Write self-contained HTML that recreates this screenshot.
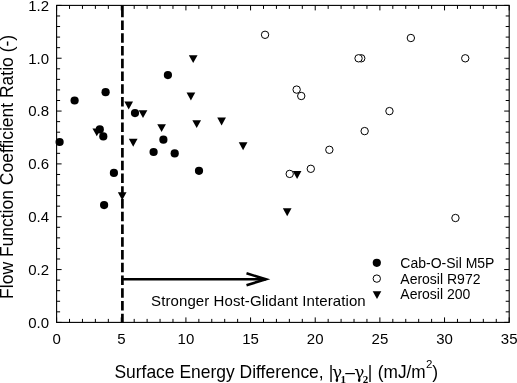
<!DOCTYPE html>
<html><head><meta charset="utf-8"><title>Flow Function Coefficient Ratio</title>
<style>html,body{margin:0;padding:0;background:#fff}svg{display:block}text{font-family:"Liberation Sans",Arial,Helvetica,sans-serif;fill:#000}.t{font-size:15px}.l{font-size:14px}.a{font-size:17.5px}.g{font-family:"DejaVu Serif","Liberation Serif",serif;font-size:17px}.sb{font-family:"Liberation Serif","DejaVu Serif",serif;font-size:11px;font-weight:bold}</style></head><body>
<svg width="517" height="383" viewBox="0 0 517 383">
<rect width="517" height="383" fill="#fff"/>
<rect x="56.6" y="5.4" width="452.60" height="317.00" fill="none" stroke="#000" stroke-width="1.1"/>
<path d="M56.60 322.4v-5.0M56.60 5.4v5.0M69.53 322.4v-3.5M69.53 5.4v3.5M82.46 322.4v-3.5M82.46 5.4v3.5M95.39 322.4v-3.5M95.39 5.4v3.5M108.33 322.4v-3.5M108.33 5.4v3.5M121.26 322.4v-5.0M121.26 5.4v5.0M134.19 322.4v-3.5M134.19 5.4v3.5M147.12 322.4v-3.5M147.12 5.4v3.5M160.05 322.4v-3.5M160.05 5.4v3.5M172.98 322.4v-3.5M172.98 5.4v3.5M185.91 322.4v-5.0M185.91 5.4v5.0M198.85 322.4v-3.5M198.85 5.4v3.5M211.78 322.4v-3.5M211.78 5.4v3.5M224.71 322.4v-3.5M224.71 5.4v3.5M237.64 322.4v-3.5M237.64 5.4v3.5M250.57 322.4v-5.0M250.57 5.4v5.0M263.50 322.4v-3.5M263.50 5.4v3.5M276.43 322.4v-3.5M276.43 5.4v3.5M289.37 322.4v-3.5M289.37 5.4v3.5M302.30 322.4v-3.5M302.30 5.4v3.5M315.23 322.4v-5.0M315.23 5.4v5.0M328.16 322.4v-3.5M328.16 5.4v3.5M341.09 322.4v-3.5M341.09 5.4v3.5M354.02 322.4v-3.5M354.02 5.4v3.5M366.95 322.4v-3.5M366.95 5.4v3.5M379.89 322.4v-5.0M379.89 5.4v5.0M392.82 322.4v-3.5M392.82 5.4v3.5M405.75 322.4v-3.5M405.75 5.4v3.5M418.68 322.4v-3.5M418.68 5.4v3.5M431.61 322.4v-3.5M431.61 5.4v3.5M444.54 322.4v-5.0M444.54 5.4v5.0M457.47 322.4v-3.5M457.47 5.4v3.5M470.41 322.4v-3.5M470.41 5.4v3.5M483.34 322.4v-3.5M483.34 5.4v3.5M496.27 322.4v-3.5M496.27 5.4v3.5M509.20 322.4v-5.0M509.20 5.4v5.0M56.6 322.40h5.0M509.2 322.40h-5.0M56.6 311.83h3.5M509.2 311.83h-3.5M56.6 301.27h3.5M509.2 301.27h-3.5M56.6 290.70h3.5M509.2 290.70h-3.5M56.6 280.13h3.5M509.2 280.13h-3.5M56.6 269.57h5.0M509.2 269.57h-5.0M56.6 259.00h3.5M509.2 259.00h-3.5M56.6 248.43h3.5M509.2 248.43h-3.5M56.6 237.87h3.5M509.2 237.87h-3.5M56.6 227.30h3.5M509.2 227.30h-3.5M56.6 216.73h5.0M509.2 216.73h-5.0M56.6 206.17h3.5M509.2 206.17h-3.5M56.6 195.60h3.5M509.2 195.60h-3.5M56.6 185.03h3.5M509.2 185.03h-3.5M56.6 174.47h3.5M509.2 174.47h-3.5M56.6 163.90h5.0M509.2 163.90h-5.0M56.6 153.33h3.5M509.2 153.33h-3.5M56.6 142.77h3.5M509.2 142.77h-3.5M56.6 132.20h3.5M509.2 132.20h-3.5M56.6 121.63h3.5M509.2 121.63h-3.5M56.6 111.07h5.0M509.2 111.07h-5.0M56.6 100.50h3.5M509.2 100.50h-3.5M56.6 89.93h3.5M509.2 89.93h-3.5M56.6 79.37h3.5M509.2 79.37h-3.5M56.6 68.80h3.5M509.2 68.80h-3.5M56.6 58.23h5.0M509.2 58.23h-5.0M56.6 47.67h3.5M509.2 47.67h-3.5M56.6 37.10h3.5M509.2 37.10h-3.5M56.6 26.53h3.5M509.2 26.53h-3.5M56.6 15.97h3.5M509.2 15.97h-3.5M56.6 5.40h5.0M509.2 5.40h-5.0" stroke="#000" stroke-width="1" fill="none"/>
<path d="M122.4 5.4V17.25" stroke="#000" stroke-width="2.7" fill="none"/><path d="M122.4 20.45V322.4" stroke="#000" stroke-width="2.7" stroke-dasharray="9.55 3.2" fill="none"/>
<path d="M121.1 279.3H266" stroke="#000" stroke-width="2.5" fill="none"/>
<path d="M246.5 273.3L265.9 279.3L246.5 285.3" stroke="#000" stroke-width="2.6" fill="none" stroke-linejoin="miter" stroke-miterlimit="10"/>
<circle cx="59.6" cy="142.0" r="4.1"/><circle cx="74.6" cy="100.5" r="4.1"/><circle cx="105.6" cy="92.2" r="4.1"/><circle cx="99.8" cy="129.4" r="4.1"/><circle cx="103.3" cy="136.4" r="4.1"/><circle cx="135" cy="113.1" r="4.1"/><circle cx="167.9" cy="75.1" r="4.1"/><circle cx="163.4" cy="139.7" r="4.1"/><circle cx="153.6" cy="152" r="4.1"/><circle cx="174.7" cy="153.4" r="4.1"/><circle cx="113.9" cy="172.9" r="4.1"/><circle cx="104.1" cy="205.1" r="4.1"/><circle cx="199" cy="170.8" r="4.1"/>
<path d="M92.45 128.45h8.7l-4.35 7.9z"/><path d="M124.35 101.55h8.7l-4.35 7.9z"/><path d="M138.65 110.15h8.7l-4.35 7.9z"/><path d="M157.25 124.15h8.7l-4.35 7.9z"/><path d="M128.85 138.75h8.7l-4.35 7.9z"/><path d="M117.85 192.35h8.7l-4.35 7.9z"/><path d="M188.85 55.15h8.7l-4.35 7.9z"/><path d="M186.55 92.55h8.7l-4.35 7.9z"/><path d="M192.35 120.15h8.7l-4.35 7.9z"/><path d="M217.25 117.55h8.7l-4.35 7.9z"/><path d="M238.75 142.35h8.7l-4.35 7.9z"/><path d="M292.75 171.05h8.7l-4.35 7.9z"/><path d="M282.85 208.25h8.7l-4.35 7.9z"/>
<circle cx="265.05" cy="34.8" r="3.7" fill="#fff" stroke="#000" stroke-width="1"/><circle cx="301.25" cy="96.0" r="3.7" fill="#fff" stroke="#000" stroke-width="1"/><circle cx="296.65" cy="89.6" r="3.7" fill="#fff" stroke="#000" stroke-width="1"/><circle cx="289.7" cy="173.9" r="3.7" fill="#fff" stroke="#000" stroke-width="1"/><circle cx="310.8" cy="168.8" r="3.7" fill="#fff" stroke="#000" stroke-width="1"/><circle cx="410.85" cy="38.0" r="3.7" fill="#fff" stroke="#000" stroke-width="1"/><circle cx="361.25" cy="58.3" r="3.7" fill="#fff" stroke="#000" stroke-width="1"/><circle cx="358.55" cy="58.3" r="3.7" fill="#fff" stroke="#000" stroke-width="1"/><circle cx="465.25" cy="58.3" r="3.7" fill="#fff" stroke="#000" stroke-width="1"/><circle cx="389.45" cy="111.1" r="3.7" fill="#fff" stroke="#000" stroke-width="1"/><circle cx="364.65" cy="131.1" r="3.7" fill="#fff" stroke="#000" stroke-width="1"/><circle cx="329.35" cy="149.8" r="3.7" fill="#fff" stroke="#000" stroke-width="1"/><circle cx="455.45" cy="218.0" r="3.7" fill="#fff" stroke="#000" stroke-width="1"/>
<circle cx="376.8" cy="262.8" r="4.1"/><circle cx="376.8" cy="278.6" r="3.7" fill="#fff" stroke="#000" stroke-width="1"/><path d="M372.7 291.3h8.6l-4.3 7.6z"/>
<text class="l" x="400.3" y="268.2">Cab-O-Sil M5P</text><text class="l" x="400.3" y="283.6">Aerosil R972</text><text class="l" x="400.3" y="298.8">Aerosil 200</text>
<text class="t" x="151.1" y="305.8" textLength="214.6" lengthAdjust="spacing">Stronger Host-Glidant Interation</text>
<text class="t" text-anchor="middle" x="56.6" y="343.8">0</text><text class="t" text-anchor="middle" x="121.3" y="343.8">5</text><text class="t" text-anchor="middle" x="185.9" y="343.8">10</text><text class="t" text-anchor="middle" x="250.6" y="343.8">15</text><text class="t" text-anchor="middle" x="315.2" y="343.8">20</text><text class="t" text-anchor="middle" x="379.9" y="343.8">25</text><text class="t" text-anchor="middle" x="444.5" y="343.8">30</text><text class="t" text-anchor="middle" x="509.2" y="343.8">35</text>
<text class="t" text-anchor="end" x="49" y="327.7">0.0</text><text class="t" text-anchor="end" x="49" y="274.9">0.2</text><text class="t" text-anchor="end" x="49" y="222.0">0.4</text><text class="t" text-anchor="end" x="49" y="169.2">0.6</text><text class="t" text-anchor="end" x="49" y="116.4">0.8</text><text class="t" text-anchor="end" x="49" y="63.5">1.0</text><text class="t" text-anchor="end" x="49" y="10.7">1.2</text>
<text class="a" x="114.4" y="377.8" style="font-size:17.9px" textLength="209.3" lengthAdjust="spacingAndGlyphs">Surface Energy Difference,</text>
<text class="a" x="328.7" y="377.8">|</text><text class="g" x="332" y="377.8">γ</text><text class="sb" x="340.6" y="382.6">1</text><text class="a" x="345.3" y="377.8">–</text><text class="g" x="354.2" y="377.8">γ</text><text class="sb" x="362.8" y="382.6">2</text><text class="a" x="367.7" y="377.8">|</text>
<text class="a" x="377.8" y="377.8" textLength="47.9" lengthAdjust="spacingAndGlyphs">(mJ/m</text><text x="426.1" y="368.2" font-size="11.5">2</text><text class="a" x="432.2" y="377.8">)</text>
<text class="a" transform="translate(12.9 298.9) rotate(-90)" textLength="264" lengthAdjust="spacing">Flow Function Coefficient Ratio (-)</text>
</svg>
</body></html>
